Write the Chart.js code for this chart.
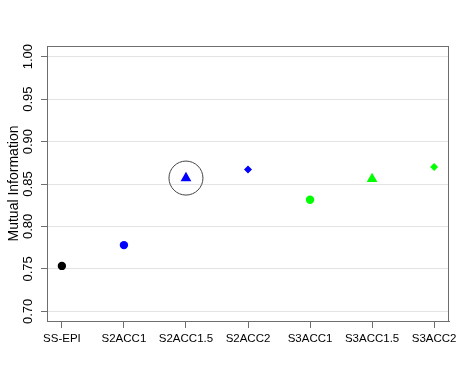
<!DOCTYPE html>
<html>
<head>
<meta charset="utf-8">
<script src="https://cdn.jsdelivr.net/npm/chart.js@4/dist/chart.umd.min.js"></script>
<style>
  html, body { margin: 0; padding: 0; background: #ffffff; }
  #wrap { width: 474px; height: 379px; position: relative; }
</style>
</head>
<body>
<div id="wrap"><canvas id="c" width="474" height="379"></canvas></div>
<script>
// ---- Data ----
const categories = ['SS-EPI', 'S2ACC1', 'S2ACC1.5', 'S2ACC2', 'S3ACC1', 'S3ACC1.5', 'S3ACC2'];
const miValues = [0.7535, 0.778, 0.857, 0.867, 0.8315, 0.856, 0.870];
const pointColors = ['#000000', '#0000FF', '#0000FF', '#0000FF', '#00FF00', '#00FF00', '#00FF00'];
const pointShapes = ['circle', 'circle', 'triangle', 'rectRot', 'circle', 'triangle', 'rectRot'];
const highlighted = [2];
const yTicks = [0.70, 0.75, 0.80, 0.85, 0.90, 0.95, 1.00];
const yTitle = 'Mutual Information';

const shapeRadius = { circle: 4.2, triangle: 6.2, rectRot: 4 };
const axisGray = '#6e6e6e';
const FONT = '"Liberation Sans", Arial, Helvetica, sans-serif';

const boxPlugin = {
  id: 'box',
  beforeDatasetsDraw(chart) {
    const a = chart.chartArea, ctx = chart.ctx;
    ctx.save();
    ctx.strokeStyle = axisGray;
    ctx.lineWidth = 1;
    ctx.strokeRect(Math.round(a.left) + 0.5, Math.round(a.top) + 0.5,
                   Math.round(a.right) - Math.round(a.left) - 1, Math.round(a.bottom) - Math.round(a.top));
    ctx.restore();
  }
};

new Chart(document.getElementById('c'), {
  type: 'scatter',
  data: {
    datasets: [
      {
        data: categories.map((c, i) => ({ x: i, y: miValues[i] })),
        pointStyle: pointShapes,
        pointRadius: pointShapes.map(s => shapeRadius[s]),
        pointHoverRadius: pointShapes.map(s => shapeRadius[s]),
        backgroundColor: pointColors,
        borderColor: pointColors,
        borderWidth: 0,
        showLine: false
      },
      {
        data: highlighted.map(i => ({ x: i, y: miValues[i] })),
        pointStyle: 'circle',
        pointRadius: 17,
        backgroundColor: 'rgba(0,0,0,0)',
        borderColor: '#444444',
        borderWidth: 1,
        showLine: false
      }
    ]
  },
  options: {
    responsive: false,
    animation: false,
    devicePixelRatio: 1,
    layout: { padding: { top: 46, right: 25, bottom: 28, left: 0 } },
    plugins: { legend: { display: false }, tooltip: { enabled: false } },
    scales: {
      x: {
        type: 'linear',
        min: -0.24,
        max: 6.24,
        afterBuildTicks: (s) => { s.ticks = categories.map((c, i) => ({ value: i })); },
        afterFit: (s) => { s.height = 30; },
        grid: { display: true, drawOnChartArea: false, drawTicks: true, tickLength: 7, tickColor: axisGray },
        border: { display: true, color: axisGray },
        ticks: {
          autoSkip: false, maxRotation: 0, minRotation: 0, padding: 4,
          color: '#000000',
          font: { family: FONT, size: 11.5 },
          callback: (v) => categories[v]
        }
      },
      y: {
        min: 0.6886,
        max: 1.0126,
        afterBuildTicks: (s) => { s.ticks = yTicks.map(v => ({ value: v })); },
        afterFit: (s) => { s.width = 47; },
        grid: { display: true, drawOnChartArea: true, color: '#e3e3e3', drawTicks: true, tickLength: 6, tickColor: axisGray },
        border: { display: true, color: axisGray },
        ticks: {
          minRotation: 90, maxRotation: 90, crossAlign: 'center', padding: 0,
          color: '#000000',
          font: { family: FONT, size: 13 },
          callback: (v) => Number(v).toFixed(2)
        },
        title: {
          display: true, text: yTitle, color: '#000000',
          font: { family: FONT, size: 14 },
          padding: { top: 6, bottom: 0 }
        }
      }
    }
  },
  plugins: [boxPlugin]
});
</script>
</body>
</html>
